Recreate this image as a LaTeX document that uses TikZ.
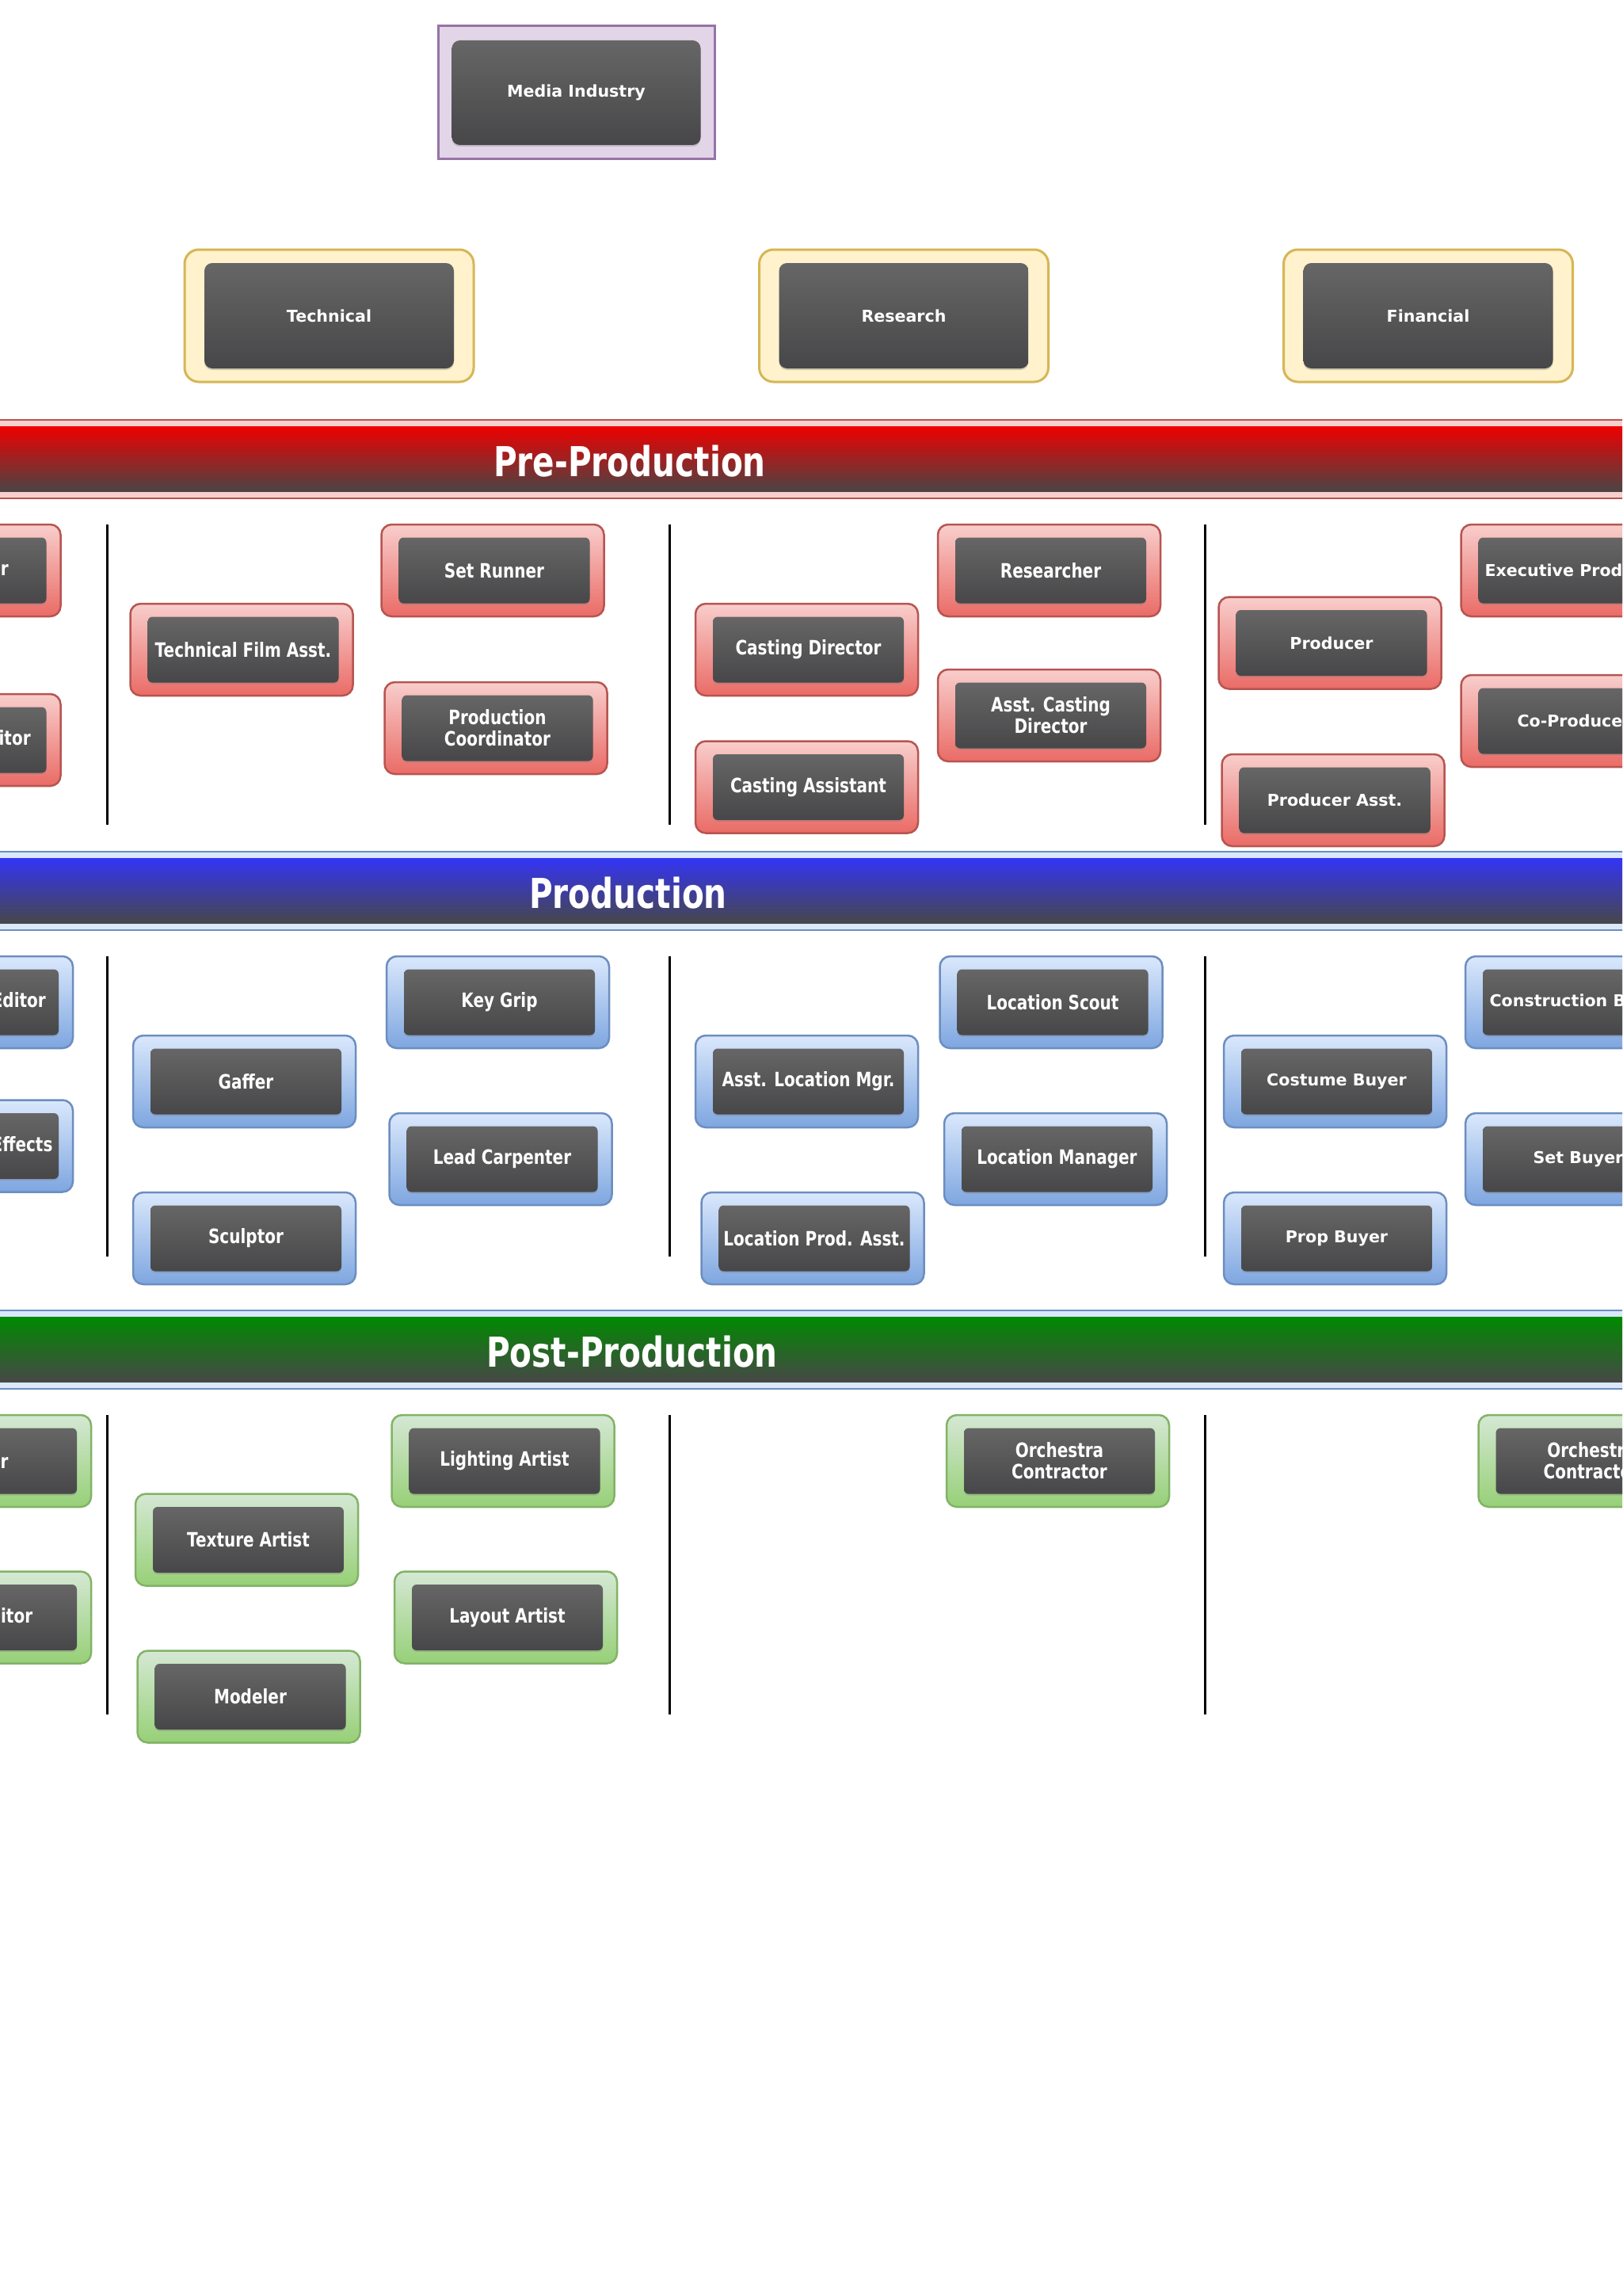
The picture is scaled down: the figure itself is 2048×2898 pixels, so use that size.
\documentclass[tikz,border=0pt]{standalone}
\usepackage{fontspec}
\usepackage{tikz}
\usetikzlibrary{positioning,shadows}

\newfontfamily\widefont{DejaVu Sans}
\newfontfamily\narrowfont[FakeStretch=0.8]{DejaVu Sans}
\newfontfamily\bandfont[FakeStretch=0.78]{DejaVu Sans}

\definecolor{redline}{HTML}{B85450}
\definecolor{redtop}{HTML}{F8CECC}
\definecolor{redbot}{HTML}{EA6B66}
\definecolor{blueline}{HTML}{6C8EBF}
\definecolor{bluetop}{HTML}{DAE8FC}
\definecolor{bluebot}{HTML}{7EA6E0}
\definecolor{greenline}{HTML}{82B366}
\definecolor{greentop}{HTML}{D5E8D4}
\definecolor{greenbot}{HTML}{97D077}
\definecolor{yellowline}{HTML}{D6B656}
\definecolor{yellowfill}{HTML}{FFF2CC}
\definecolor{purpleline}{HTML}{9673A6}
\definecolor{purplefill}{HTML}{E1D5E7}
\definecolor{darktop}{HTML}{666666}
\definecolor{darkbot}{HTML}{474749}
\definecolor{pretop}{HTML}{EE0000}
\definecolor{prebot}{HTML}{4A4444}
\definecolor{protop}{HTML}{3434F5}
\definecolor{probot}{HTML}{46464C}
\definecolor{posttop}{HTML}{008A00}
\definecolor{postbot}{HTML}{474747}

\newcommand{\role}[6][narrowtext]{%
  \node[#2] (#3) at (#4,#5) {};
  \node[innerbox,#1] (#3-in) at ([xshift=2pt]#3.center) {#6};
}

\begin{document}
\begin{tikzpicture}[
				x=1pt,y=-1pt,
				narrowtext/.style={font=\narrowfont\bfseries\fontsize{25}{27}\selectfont},
				widetext/.style={font=\widefont\bfseries\fontsize{20.6}{25}\selectfont},
				innerbox/.style={
					rounded corners=6pt,
					minimum width=241pt,
					minimum height=83pt,
					top color=darktop,
					bottom color=darkbot,
					text=white,
					align=center,
					inner sep=1pt,
					drop shadow={shadow xshift=0pt,shadow yshift=-2pt,opacity=0.35}
				},
				rolebox/.style={
					rounded corners=13pt,
					minimum width=281pt,
					minimum height=116pt,
					line width=2.5pt
				},
				redbox/.style={rolebox,draw=redline,top color=redtop,bottom color=redbot},
				bluebox/.style={rolebox,draw=blueline,top color=bluetop,bottom color=bluebot},
				greenbox/.style={rolebox,draw=greenline,top color=greentop,bottom color=greenbot},
				levelbox/.style={
					draw=yellowline,
					fill=yellowfill,
					rounded corners=18pt,
					minimum width=365pt,
					minimum height=167pt,
					line width=3pt
				},
				band/.style={minimum width=2120pt,minimum height=99pt,line width=2pt},
				bandfill/.style={minimum width=2120pt,minimum height=82pt,inner sep=0pt},
				bandtitle/.style={text=white,font=\bandfont\bfseries\fontsize{52}{60}\selectfont},
				sepline/.style={line width=3pt,black}
				]
				\useasboundingbox (0,0) rectangle (2048,2898);
				\clip (0,0) rectangle (2048,2898);
				\fill[white] (0,0) rectangle (2048,2898);
				
				\node[draw=purpleline,fill=purplefill,line width=3pt,minimum width=349pt,minimum height=168pt] (media) at (727.5,117) {};
				\node[innerbox,widetext,minimum width=314pt,minimum height=132pt,rounded corners=10pt] (media-in) at (media.center) {Media Industry};
				
				\node[levelbox] (technical) at (415.5,398.5) {};
				\node[levelbox] (research) at (1141,398.5) {};
				\node[levelbox] (financial) at (1803,398.5) {};
				\foreach \n/\t in {technical/Technical,research/Research,financial/Financial}
				\node[innerbox,widetext,minimum width=315pt,minimum height=133pt,rounded corners=10pt] (\n-in) at (\n.center) {\t};
				
				\node[band,draw=redline,fill=redtop] (pre) at (1024,579.5) {};
				\node[bandfill,top color=pretop,bottom color=prebot] (pre-in) at (pre.center) {};
				\node[bandtitle] (pre-t) at (795,582) {Pre-Production};
				
				\node[band,draw=blueline,fill=bluetop] (prod) at (1024,1124) {};
				\node[bandfill,top color=protop,bottom color=probot] (prod-in) at (prod.center) {};
				\node[bandtitle] (prod-t) at (793,1127) {Production};
				
				\node[band,draw=blueline,fill=bluetop] (post) at (1024,1703) {};
				\node[bandfill,top color=posttop,bottom color=postbot] (post-in) at (post.center) {};
				\node[bandtitle] (post-t) at (798,1706) {Post-Production};
				
				\foreach \x in {135,845,1521}
				\foreach \a/\b in {662/1041,1207/1586,1786/2164}
				\draw[sepline] (\x,\a) -- (\x,\b);
				
				\role{redbox}{writer}{-64}{720}{Script Writer}
				\role{redbox}{storyedit}{-64}{934}{Storyboard Editor}
				\role{redbox}{techasst}{305}{820}{Technical Film Asst.}
				\role{redbox}{setrunner}{622}{720}{Set Runner}
				\role{redbox}{prodcoord}{626}{919}{Production\\Coordinator}
				\role{redbox}{castdir}{1018.5}{820}{Casting Director}
				\role{redbox}{castasst}{1018.5}{993.5}{Casting Assistant}
				\role{redbox}{researcher}{1324.5}{720}{Researcher}
				\role{redbox}{asstcast}{1324.5}{903}{Asst. Casting\\Director}
				\role[widetext]{redbox}{producer}{1679}{811.5}{Producer}
				\role[widetext]{redbox}{prodasst}{1683}{1010}{Producer Asst.}
				\role[widetext]{redbox}{execprod}{1985}{720}{Executive Producer}
				\role[widetext]{redbox}{coprod}{1985}{910}{Co-Producer}
				
				\role{bluebox}{supedit}{-48.5}{1265}{Supervising Editor}
				\role{bluebox}{effects}{-48.5}{1446.5}{Atmospheric Effects}
				\role{bluebox}{gaffer}{308.5}{1365}{Gaffer}
				\role{bluebox}{sculptor}{308.5}{1563}{Sculptor}
				\role{bluebox}{keygrip}{628.5}{1265}{Key Grip}
				\role{bluebox}{leadcarp}{632}{1463}{Lead Carpenter}
				\role{bluebox}{asstloc}{1018.5}{1365}{Asst. Location Mgr.}
				\role{bluebox}{locpa}{1026}{1563}{Location Prod. Asst.}
				\role{bluebox}{locscout}{1327}{1265}{Location Scout}
				\role{bluebox}{locmgr}{1332.5}{1463}{Location Manager}
				\role[widetext]{bluebox}{costume}{1685.5}{1365}{Costume Buyer}
				\role[widetext]{bluebox}{propbuyer}{1685.5}{1563}{Prop Buyer}
				\role[widetext]{bluebox}{construct}{1990.5}{1265}{Construction Buyer}
				\role[widetext]{bluebox}{setbuyer}{1990.5}{1463}{Set Buyer}
				
				\role{greenbox}{editor}{-25.5}{1844}{Editor}
				\role{greenbox}{compositor}{-25.5}{2041.5}{Compositor}
				\role{greenbox}{texture}{311.5}{1943.5}{Texture Artist}
				\role{greenbox}{modeler}{314}{2141.5}{Modeler}
				\role{greenbox}{lighting}{635}{1844}{Lighting Artist}
				\role{greenbox}{layout}{638.5}{2041.5}{Layout Artist}
				\role{greenbox}{orchone}{1335.5}{1844}{Orchestra\\Contractor}
				\role{greenbox}{orchtwo}{2007}{1844}{Orchestra\\Contractor}
			\end{tikzpicture}
\end{document}
